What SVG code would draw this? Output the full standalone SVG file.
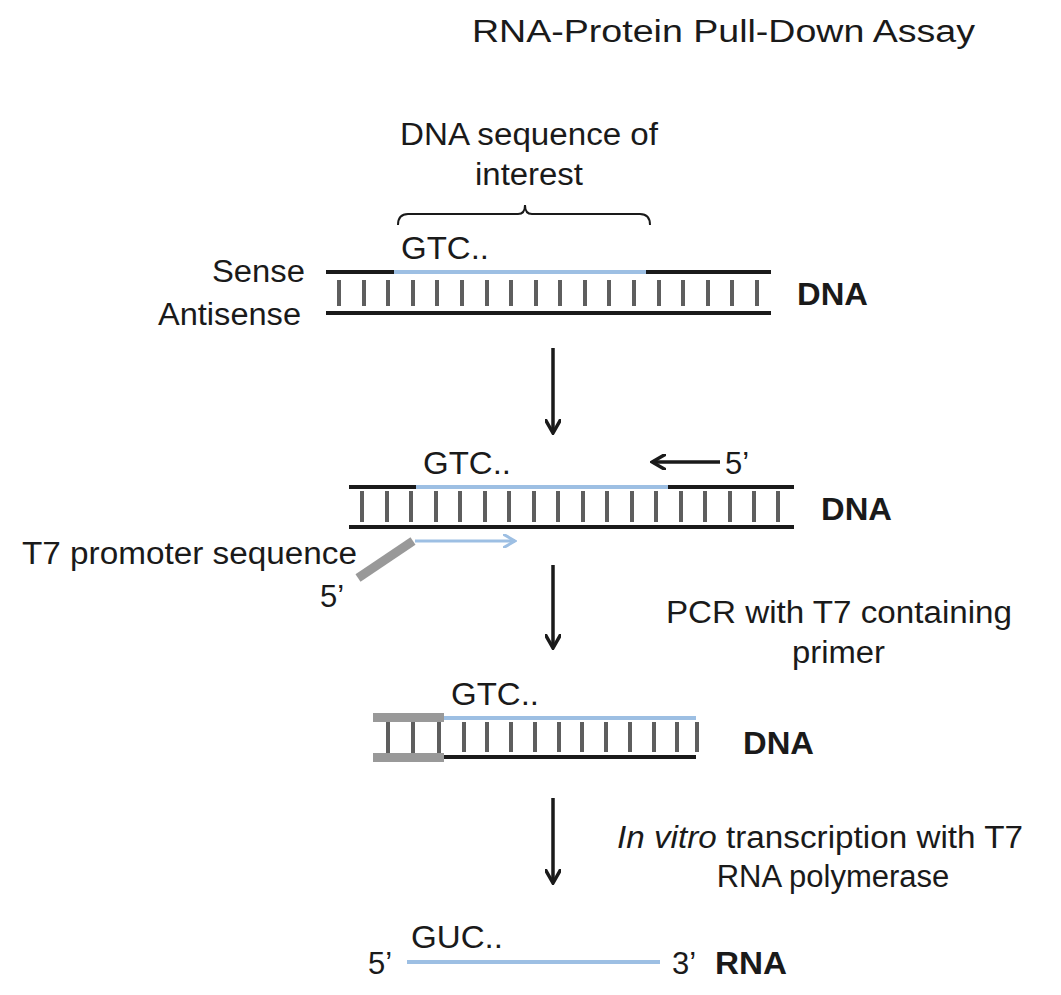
<svg xmlns="http://www.w3.org/2000/svg" width="1061" height="995" viewBox="0 0 1061 995">
<style>
text{font-family:"Liberation Sans",Arial,sans-serif;font-size:31px;fill:#1a1a1a}
.b{font-weight:bold}
.k{stroke:#1a1a1a;stroke-width:4;fill:none}
.bl{stroke:#9dbfe3;stroke-width:4;fill:none}
.r{stroke:#5e5e5e;stroke-width:4}
.g{fill:#999}
</style>
<defs>
<marker id="ab" markerWidth="14" markerHeight="14" refX="12" refY="7" orient="auto" markerUnits="userSpaceOnUse"><path d="M0,0 L12,7 L0,14" fill="none" stroke="#9dbfe3" stroke-width="3"/></marker>
<marker id="ak" markerWidth="16" markerHeight="16" refX="14" refY="8" orient="auto" markerUnits="userSpaceOnUse"><path d="M0,0 L14,8 L0,16" fill="none" stroke="#1a1a1a" stroke-width="3.5"/></marker>
</defs>
<text x="472" y="42" font-size="33" textLength="503" lengthAdjust="spacingAndGlyphs">RNA-Protein Pull-Down Assay</text>
<g id="dna1">
<text x="400" y="145" textLength="258" lengthAdjust="spacingAndGlyphs">DNA sequence of</text>
<text x="475" y="185" textLength="108" lengthAdjust="spacingAndGlyphs">interest</text>
<path d="M398,225 Q398,214 408,214 L518,214 Q525,214 525,205 Q525,214 532,214 L640,214 Q650,214 650,225" fill="none" stroke="#1a1a1a" stroke-width="2"/>
<text x="401" y="259" textLength="88" lengthAdjust="spacingAndGlyphs">GTC..</text>
<text x="212" y="282" textLength="93" lengthAdjust="spacingAndGlyphs">Sense</text>
<text x="158" y="325" textLength="143" lengthAdjust="spacingAndGlyphs">Antisense</text>
<line class="k" x1="326" y1="272" x2="771" y2="272"/>
<line class="bl" x1="394" y1="272" x2="646" y2="272"/>
<line class="k" x1="326" y1="313" x2="771" y2="313"/>
<g class="r"><line x1="339" y1="280" x2="339" y2="306"/><line x1="364" y1="280" x2="364" y2="306"/><line x1="388" y1="280" x2="388" y2="306"/><line x1="413" y1="280" x2="413" y2="306"/><line x1="437" y1="280" x2="437" y2="306"/><line x1="462" y1="280" x2="462" y2="306"/><line x1="487" y1="280" x2="487" y2="306"/><line x1="511" y1="280" x2="511" y2="306"/><line x1="536" y1="280" x2="536" y2="306"/><line x1="560" y1="280" x2="560" y2="306"/><line x1="585" y1="280" x2="585" y2="306"/><line x1="609" y1="280" x2="609" y2="306"/><line x1="634" y1="280" x2="634" y2="306"/><line x1="659" y1="280" x2="659" y2="306"/><line x1="683" y1="280" x2="683" y2="306"/><line x1="708" y1="280" x2="708" y2="306"/><line x1="732" y1="280" x2="732" y2="306"/><line x1="757" y1="280" x2="757" y2="306"/></g>
<text x="797" y="305" class="b" textLength="71" lengthAdjust="spacingAndGlyphs">DNA</text>
</g>
<g id="dna2">
<text x="423" y="474" textLength="88" lengthAdjust="spacingAndGlyphs">GTC..</text>
<line x1="720" y1="462" x2="652" y2="462" stroke="#1a1a1a" stroke-width="3.5" marker-end="url(#ak)"/>
<text x="725" y="474">5’</text>
<line class="k" x1="349" y1="487" x2="794" y2="487"/>
<line class="bl" x1="416" y1="487" x2="668" y2="487"/>
<line class="k" x1="349" y1="527" x2="794" y2="527"/>
<g class="r"><line x1="362" y1="491" x2="362" y2="522"/><line x1="387" y1="491" x2="387" y2="522"/><line x1="411" y1="491" x2="411" y2="522"/><line x1="436" y1="491" x2="436" y2="522"/><line x1="460" y1="491" x2="460" y2="522"/><line x1="485" y1="491" x2="485" y2="522"/><line x1="509" y1="491" x2="509" y2="522"/><line x1="534" y1="491" x2="534" y2="522"/><line x1="558" y1="491" x2="558" y2="522"/><line x1="583" y1="491" x2="583" y2="522"/><line x1="607" y1="491" x2="607" y2="522"/><line x1="632" y1="491" x2="632" y2="522"/><line x1="656" y1="491" x2="656" y2="522"/><line x1="681" y1="491" x2="681" y2="522"/><line x1="705" y1="491" x2="705" y2="522"/><line x1="730" y1="491" x2="730" y2="522"/><line x1="754" y1="491" x2="754" y2="522"/><line x1="778" y1="491" x2="778" y2="522"/></g>
<text x="821" y="520" class="b" textLength="71" lengthAdjust="spacingAndGlyphs">DNA</text>
<line x1="413" y1="541" x2="358" y2="578" stroke="#999" stroke-width="9"/>
<line x1="415" y1="541" x2="515" y2="541" stroke="#9dbfe3" stroke-width="3" marker-end="url(#ab)"/>
<text x="22" y="564" textLength="335" lengthAdjust="spacingAndGlyphs">T7 promoter sequence</text>
<text x="320" y="607">5’</text>
</g>
<g id="dna3">
<text x="451" y="705" textLength="88" lengthAdjust="spacingAndGlyphs">GTC..</text>
<rect class="g" x="373" y="713" width="71" height="9"/>
<rect class="g" x="373" y="753" width="71" height="9"/>
<line class="bl" x1="444" y1="718" x2="696" y2="718"/>
<line class="k" x1="444" y1="757" x2="696" y2="757"/>
<g class="r"><line x1="388" y1="722" x2="388" y2="753"/><line x1="413" y1="722" x2="413" y2="753"/><line x1="439" y1="722" x2="439" y2="753"/><line x1="464" y1="722" x2="464" y2="752"/><line x1="487" y1="722" x2="487" y2="752"/><line x1="511" y1="722" x2="511" y2="752"/><line x1="535" y1="722" x2="535" y2="752"/><line x1="559" y1="722" x2="559" y2="752"/><line x1="582" y1="722" x2="582" y2="752"/><line x1="606" y1="722" x2="606" y2="752"/><line x1="630" y1="722" x2="630" y2="752"/><line x1="654" y1="722" x2="654" y2="752"/><line x1="677" y1="722" x2="677" y2="752"/><line x1="697" y1="722" x2="697" y2="752"/></g>
<text x="743" y="754" class="b" textLength="71" lengthAdjust="spacingAndGlyphs">DNA</text>
</g>
<g id="rna">
<text x="368" y="974">5’</text>
<text x="411" y="948" textLength="92" lengthAdjust="spacingAndGlyphs">GUC..</text>
<line class="bl" x1="407" y1="962" x2="660" y2="962"/>
<text x="672" y="974">3’</text>
<text x="715" y="974" class="b" textLength="72" lengthAdjust="spacingAndGlyphs">RNA</text>
</g>
<g id="labels">
<text x="666" y="623" textLength="346" lengthAdjust="spacingAndGlyphs">PCR with T7 containing</text>
<text x="792" y="663" textLength="93" lengthAdjust="spacingAndGlyphs">primer</text>
<text x="617" y="848" textLength="406" lengthAdjust="spacingAndGlyphs"><tspan font-style="italic">In vitro</tspan> transcription with T7</text>
<text x="833" y="887" text-anchor="middle">RNA polymerase</text>
</g>
<g id="connectors">
<line x1="553" y1="348" x2="553" y2="433" stroke="#1a1a1a" stroke-width="3.5" marker-end="url(#ak)"/>
<line x1="553" y1="565" x2="553" y2="648" stroke="#1a1a1a" stroke-width="3.5" marker-end="url(#ak)"/>
<line x1="553" y1="798" x2="553" y2="883" stroke="#1a1a1a" stroke-width="3.5" marker-end="url(#ak)"/>
</g>
</svg>
